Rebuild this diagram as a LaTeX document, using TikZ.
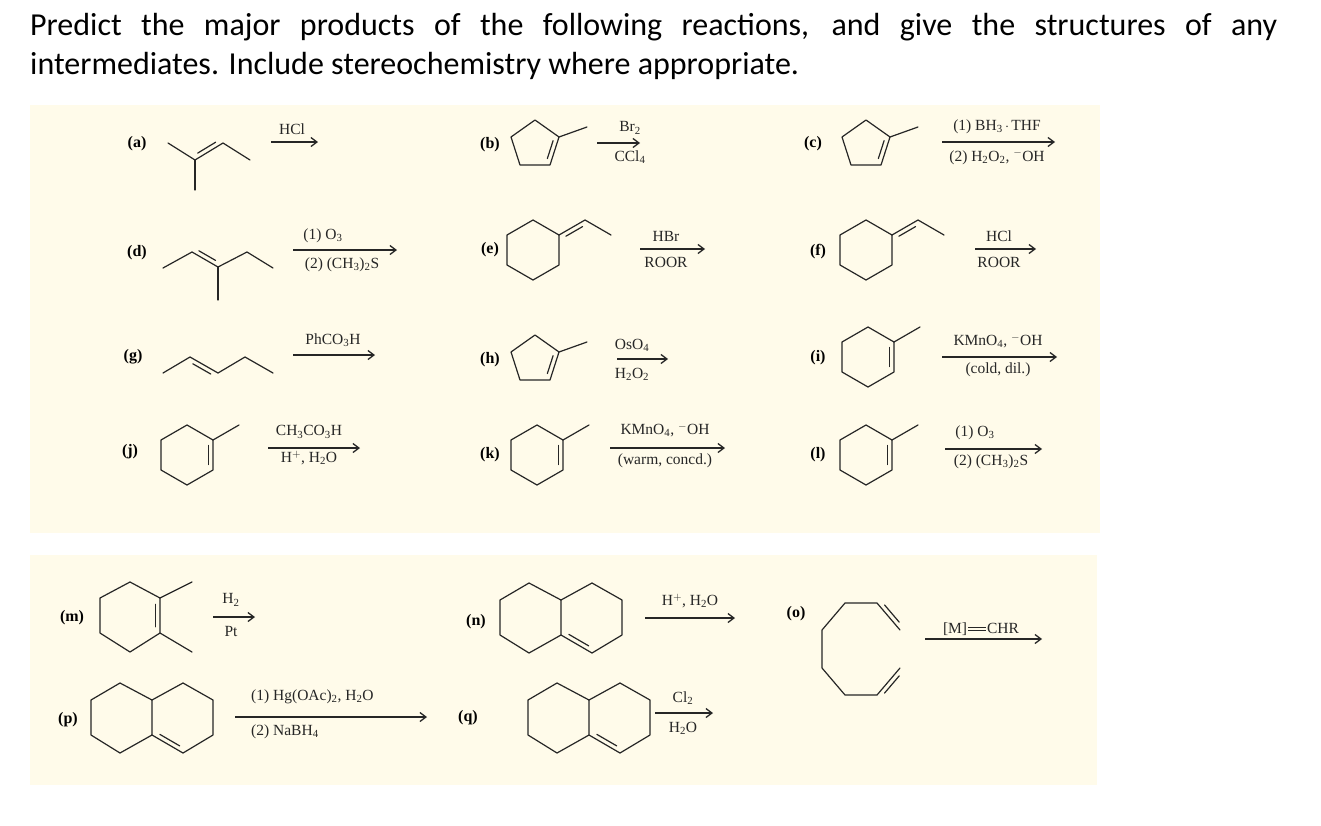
\documentclass[tikz,border=0pt]{standalone}
\usepackage{fontspec}
\setmainfont{Liberation Serif}
\newfontfamily\titlefont{Carlito}
\usetikzlibrary{arrows.meta,calc}
\definecolor{panel}{HTML}{FFFBEA}
\newcommand\sub[1]{\textsubscript{#1}}
\tikzset{
  bond/.style={line width=1.2pt, line cap=round, line join=round, black!85},
  rxn/.style={line width=1.1pt, black!85, -{Straight Barb[length=6pt,width=9pt,line width=1.3pt]}},
  lab/.style={font=\bfseries\fontsize{16}{16}\selectfont, inner sep=0pt},
  reag/.style={font=\fontsize{15.5}{17}\selectfont, inner sep=1pt, black!85}
}
\newcommand\dbl[3]{\draw[bond] ($(#1)!0.18!(#2)!4.5pt!#3:(#2)$) -- ($(#2)!0.18!(#1)!4.5pt!-#3:(#1)$);}
\newcommand\hexa[3]{%
  \coordinate (#1t) at (#2,#3-30); \coordinate (#1ur) at (#2+26,#3-15);
  \coordinate (#1lr) at (#2+26,#3+15); \coordinate (#1b) at (#2,#3+30);
  \coordinate (#1ll) at (#2-26,#3+15); \coordinate (#1ul) at (#2-26,#3-15);
  \draw[bond] (#1t)--(#1ur)--(#1lr)--(#1b)--(#1ll)--(#1ul)--cycle;}
\newcommand\penta[3]{%
  \coordinate (#1t) at (#2,#3-25); \coordinate (#1r) at (#2+24,#3-8);
  \coordinate (#1br) at (#2+15,#3+20); \coordinate (#1bl) at (#2-15,#3+20);
  \coordinate (#1l) at (#2-24,#3-8);
  \draw[bond] (#1t)--(#1r)--(#1br)--(#1bl)--(#1l)--cycle;}
\newcommand\decal[3]{%
  \begin{scope}[shift={(#2,#3)}]
  \coordinate (#1a) at (120,683); \coordinate (#1b) at (91,700);
  \coordinate (#1c) at (91,735); \coordinate (#1d) at (120,753);
  \coordinate (#1e) at (152,735); \coordinate (#1f) at (152,700);
  \coordinate (#1g) at (183,683); \coordinate (#1h) at (213,700);
  \coordinate (#1i) at (213,735); \coordinate (#1j) at (183,753);
  \draw[bond] (#1a)--(#1b)--(#1c)--(#1d)--(#1e)--(#1f)--cycle;
  \draw[bond] (#1f)--(#1g)--(#1h)--(#1i)--(#1j)--(#1e);
  \dbl{#1e}{#1j}{90}
  \end{scope}}
\begin{document}
\begin{tikzpicture}[x=1pt,y=-1pt]
\useasboundingbox (0,0) rectangle (1321,825);
\fill[white] (0,0) rectangle (1321,825);
\fill[panel] (30,105) rectangle (1100,533);
\fill[panel] (30,555) rectangle (1097,785);
\node[anchor=west, inner sep=0pt, font=\titlefont\fontsize{32}{32}\selectfont] (t1) at (30,27)
  {\makebox[1247pt][s]{Predict the major products of the following reactions, and give the structures of any}};
\node[anchor=west, inner sep=0pt, font=\titlefont\fontsize{32}{32}\selectfont] (t2) at (30,66)
  {intermediates. Include stereochemistry where appropriate.};

% (a)
\node[lab] (la) at (137,144) {(a)};
\coordinate (a1) at (168,143); \coordinate (a2) at (195,160); \coordinate (a3) at (223,143);
\coordinate (a4) at (250,160); \coordinate (a5) at (195,190);
\draw[bond] (a1)--(a2)--(a3)--(a4); \draw[bond] (a2)--(a5); \dbl{a2}{a3}{90}
\coordinate (ra1) at (271,142); \coordinate (ra2) at (318,142);
\draw[rxn] (ra1) -- (ra2);
\node[reag] (xa) at (292,129) {HCl};

% (b)
\node[lab] (lb) at (490,145) {(b)};
\penta{b}{535}{145} \draw[bond] (br) -- ++(28,-10); \dbl{br}{bbr}{-90}
\coordinate (rb1) at (597,143); \coordinate (rb2) at (640,143);
\draw[rxn] (rb1) -- (rb2);
\node[reag] (xb1) at (630,128) {Br\sub{2}};
\node[reag] (xb2) at (630,157) {CCl\sub{4}};

% (c)
\node[lab] (lc) at (813,144) {(c)};
\penta{c}{866}{145} \draw[bond] (cr) -- ++(28,-10); \dbl{cr}{cbr}{-90}
\coordinate (rc1) at (942,142); \coordinate (rc2) at (1055,142);
\draw[rxn] (rc1) -- (rc2);
\node[reag] (xc1) at (997,127) {(1)\ BH\sub{3}$\,\cdot\,$THF};
\node[reag] (xc2) at (997,157) {(2)\ H\sub{2}O\sub{2}, $^{-}$OH};

% (d)
\node[lab] (ld) at (137,253) {(d)};
\coordinate (d1) at (163,268); \coordinate (d2) at (192,252); \coordinate (d3) at (218,267);
\coordinate (d4) at (247,252); \coordinate (d5) at (273,268); \coordinate (d6) at (218,300);
\draw[bond] (d1)--(d2)--(d3)--(d4)--(d5); \draw[bond] (d3)--(d6); \dbl{d2}{d3}{90}
\coordinate (rd1) at (293,250); \coordinate (rd2) at (397,250);
\draw[rxn] (rd1) -- (rd2);
\node[reag] (xd1) at (323,236) {(1)\ O\sub{3}};
\node[reag] (xd2) at (342,265) {(2)\ (CH\sub{3})\sub{2}S};

% (e)
\node[lab] (le) at (490,250) {(e)};
\hexa{e}{533}{250} \coordinate (e7) at ($(eur)+(26,-15)$); \coordinate (e8) at ($(e7)+(26,15)$);
\draw[bond] (eur)--(e7)--(e8); \dbl{eur}{e7}{-90}
\coordinate (re1) at (640,249); \coordinate (re2) at (705,249);
\draw[rxn] (re1) -- (re2);
\node[reag] (xe1) at (666,236) {HBr};
\node[reag] (xe2) at (666,262) {ROOR};

% (f)
\node[lab] (lf) at (818,252) {(f)};
\hexa{f}{866}{250} \coordinate (f7) at ($(fur)+(26,-15)$); \coordinate (f8) at ($(f7)+(26,15)$);
\draw[bond] (fur)--(f7)--(f8); \dbl{fur}{f7}{-90}
\coordinate (rf1) at (975,249); \coordinate (rf2) at (1036,249);
\draw[rxn] (rf1) -- (rf2);
\node[reag] (xf1) at (999,236) {HCl};
\node[reag] (xf2) at (999,262) {ROOR};

% (g)
\node[lab] (lg) at (133,357) {(g)};
\coordinate (g1) at (163,373); \coordinate (g2) at (190,357); \coordinate (g3) at (218,373);
\coordinate (g4) at (245,357); \coordinate (g5) at (273,373);
\draw[bond] (g1)--(g2)--(g3)--(g4)--(g5); \dbl{g2}{g3}{-90}
\coordinate (rg1) at (293,355); \coordinate (rg2) at (375,355);
\draw[rxn] (rg1) -- (rg2);
\node[reag] (xg) at (333,340) {PhCO\sub{3}H};

% (h)
\node[lab] (lh) at (490,360) {(h)};
\penta{h}{535}{360} \draw[bond] (hr) -- ++(28,-10); \dbl{hr}{hbr}{-90}
\coordinate (rh1) at (617,359); \coordinate (rh2) at (668,359);
\draw[rxn] (rh1) -- (rh2);
\node[reag] (xh1) at (632,345) {OsO\sub{4}};
\node[reag] (xh2) at (632,374) {H\sub{2}O\sub{2}};

% (i)
\node[lab] (li) at (818,358) {(i)};
\hexa{i}{868}{357} \draw[bond] (iur) -- ++(26,-15); \dbl{iur}{ilr}{-90}
\coordinate (ri1) at (942,357); \coordinate (ri2) at (1057,357);
\draw[rxn] (ri1) -- (ri2);
\node[reag] (xi1) at (998,341) {KMnO\sub{4}, $^{-}$OH};
\node[reag] (xi2) at (998,370) {(cold, dil.)};

% (j)
\node[lab] (lj) at (130,452) {(j)};
\hexa{j}{187}{455} \draw[bond] (jur) -- ++(26,-15); \dbl{jur}{jlr}{-90}
\coordinate (rj1) at (268,448); \coordinate (rj2) at (360,448);
\draw[rxn] (rj1) -- (rj2);
\node[reag] (xj1) at (309,432) {CH\sub{3}CO\sub{3}H};
\node[reag] (xj2) at (309,458) {H$^{+}$, H\sub{2}O};

% (k)
\node[lab] (lk) at (490,455) {(k)};
\hexa{k}{537}{455} \draw[bond] (kur) -- ++(26,-15); \dbl{kur}{klr}{-90}
\coordinate (rk1) at (610,448); \coordinate (rk2) at (725,448);
\draw[rxn] (rk1) -- (rk2);
\node[reag] (xk1) at (665,430) {KMnO\sub{4}, $^{-}$OH};
\node[reag] (xk2) at (665,461) {(warm, concd.)};

% (l)
\node[lab] (ll) at (818,455) {(l)};
\hexa{l}{866}{455} \draw[bond] (lur) -- ++(26,-15); \dbl{lur}{llr}{-90}
\coordinate (rl1) at (945,449); \coordinate (rl2) at (1042,449);
\draw[rxn] (rl1) -- (rl2);
\node[reag] (xl1) at (975,433) {(1) O\sub{3}};
\node[reag] (xl2) at (991,462) {(2) (CH\sub{3})\sub{2}S};

% (m)
\node[lab] (lm) at (72,618) {(m)};
\coordinate (mt) at (130,582); \coordinate (mur) at (160,598); \coordinate (mlr) at (160,633);
\coordinate (mb) at (130,652); \coordinate (mll) at (100,633); \coordinate (mul) at (100,598);
\draw[bond] (mt)--(mur)--(mlr)--(mb)--(mll)--(mul)--cycle;
\draw[bond] (mur) -- (192,582); \draw[bond] (mlr) -- (192,652); \dbl{mur}{mlr}{-90}
\coordinate (rm1) at (213,617); \coordinate (rm2) at (255,617);
\draw[rxn] (rm1) -- (rm2);
\node[reag] (xm1) at (231,600) {H\sub{2}};
\node[reag] (xm2) at (231,631) {Pt};

% (p)
\node[lab] (lp) at (68,720) {(p)};
\decal{p}{0}{0}
\coordinate (rp1) at (235,717); \coordinate (rp2) at (427,717);
\draw[rxn] (rp1) -- (rp2);
\node[reag, anchor=west] (xp1) at (250,697) {(1)\ Hg(OAc)\sub{2}, H\sub{2}O};
\node[reag, anchor=west] (xp2) at (250,732) {(2)\ NaBH\sub{4}};

% (n)
\node[lab] (ln) at (476,622) {(n)};
\decal{n}{409}{-100}
\coordinate (rn1) at (645,618); \coordinate (rn2) at (735,618);
\draw[rxn] (rn1) -- (rn2);
\node[reag] (xn) at (690,601) {H$^{+}$, H\sub{2}O};

% (q)
\node[lab] (lq) at (468,718) {(q)};
\decal{q}{437}{0}
\coordinate (rq1) at (655,713); \coordinate (rq2) at (713,713);
\draw[rxn] (rq1) -- (rq2);
\node[reag] (xq1) at (683,698) {Cl\sub{2}};
\node[reag] (xq2) at (683,728) {H\sub{2}O};

% (o)
\node[lab] (lo) at (796,614) {(o)};
\coordinate (o1) at (877,603); \coordinate (o2) at (900,630); \coordinate (o3) at (900,668);
\coordinate (o4) at (877,695); \coordinate (o5) at (845,695); \coordinate (o6) at (822,668);
\coordinate (o7) at (822,630); \coordinate (o8) at (845,603);
\draw[bond] (o2)--(o1)--(o8)--(o7)--(o6)--(o5)--(o4)--(o3);
\dbl{o1}{o2}{90} \dbl{o4}{o3}{-90}
\coordinate (ro1) at (925,639); \coordinate (ro2) at (1042,639);
\draw[rxn] (ro1) -- (ro2);
\node[reag] (xo) at (981,629) {[M]\kern1pt\rule[2.5pt]{18pt}{0.6pt}\llap{\rule[5.5pt]{18pt}{0.6pt}}\kern1pt CHR};
\end{tikzpicture}
\end{document}
